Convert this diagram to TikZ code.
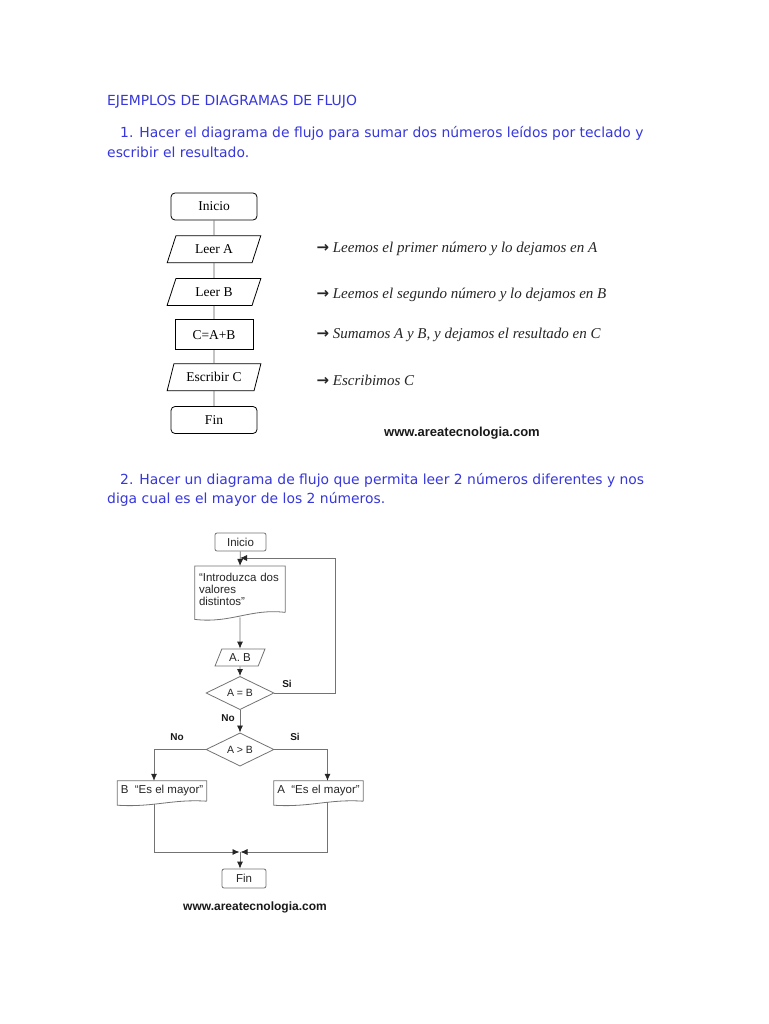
\documentclass[tikz,border=0pt]{standalone}
\usepackage{fontspec}
\setmainfont{Liberation Serif}
\newfontfamily\verd{DejaVu Sans}
\newfontfamily\arial{Liberation Sans}
\usepackage{tikz}
\usetikzlibrary{arrows,arrows.meta}
\usetikzlibrary{shapes.geometric}
\usetikzlibrary{calc}
\definecolor{textblue}{RGB}{55,55,220}
\definecolor{linegray}{RGB}{115,115,115}
\tikzset{term1/.style={rectangle, rounded corners=4pt, draw=black, thick, minimum width=86pt, minimum height=27pt, font=\fontsize{13.5}{15}\selectfont},
	io1/.style={trapezium, trapezium left angle=72, trapezium right angle=108, trapezium stretches=true, draw=black, thick, minimum width=94pt, minimum height=27pt, font=\fontsize{13.5}{15}\selectfont},
	proc1/.style={rectangle, draw=black, thick, minimum width=78pt, minimum height=30pt, font=\fontsize{13.5}{15}\selectfont},
	note/.style={anchor=west, font=\itshape\fontsize{15}{17}\selectfont, text=black!85},
	blue/.style={anchor=base west, inner sep=0pt, text=textblue, font=\verd\fontsize{13.9}{16}\selectfont},
	url/.style={font=\arial\bfseries\fontsize{13}{15}\selectfont, text=black!90},
	term2/.style={rectangle, rounded corners=2pt, draw=linegray, thick, font=\arial\fontsize{11.5}{13}\selectfont, text=black!85},
	io2/.style={trapezium, trapezium left angle=70, trapezium right angle=110, trapezium stretches=true, draw=linegray, thick, minimum width=50pt, minimum height=17pt, font=\arial\fontsize{11.5}{13}\selectfont, text=black!85},
	dec2/.style={diamond, draw=linegray, thick, minimum width=68pt, minimum height=24pt, inner sep=0pt, font=\arial\fontsize{10.5}{12}\selectfont, text=black!85},
	doc2/.style={rectangle, font=\arial\fontsize{11.5}{12}\selectfont, text=black!85},
	line2/.style={draw=linegray, thick},
	flow/.style={line2, -{Latex[length=7pt,width=6pt,color=black!85]}},
	lbl/.style={font=\arial\bfseries\fontsize{10}{12}\selectfont, text=black!90}
}
% outline of a document box: name, drop of the wave at the left
\newcommand{\docshape}[2]{%
	\draw[line2] (#1.south east) -- (#1.north east) -- (#1.north west) -- ([yshift=-#2pt]#1.south west)
	.. controls ($(#1.south west)!0.4!(#1.south east)+(0,-1.6*#2)$) and ($(#1.south west)!0.62!(#1.south east)+(0,0.6*#2)$) .. (#1.south east);}

\begin{document}
\begin{tikzpicture}[x=1pt,y=1pt,level distance=42.7pt,
			edge from parent/.style={draw, black!65, thick}]
	\useasboundingbox[fill=white] (0,0) rectangle (768,-1024);

	% texts
	\node[blue] (titulo) at (107,-106) {EJEMPLOS DE DIAGRAMAS DE FLUJO};
	\node[blue] (uno) at (120,-138) {1. Hacer el diagrama de flujo para sumar dos números leídos por teclado y};
	\node[blue] (unob) at (107,-158) {escribir el resultado.};
	\node[blue] (dos) at (120,-484) {2. Hacer un diagrama de flujo que permita leer 2 números diferentes y nos};
	\node[blue] (dosb) at (107,-503) {diga cual es el mayor de los 2 números.};

	% first diagram
	\node[term1] (inicio) at (214,-206.5) {Inicio}
	child {node[io1] (leera) {Leer A}
		child {node[io1] (leerb) {Leer B}
			child {node[proc1] (suma) {C=A+B}
				child {node[io1] (escribir) {Escribir C}
					child {node[term1] (fin) {Fin}}}}}};

	\node[note] (nota1) at (313,-249) {{\verd\bfseries →}\ Leemos el primer número y lo dejamos en A};
	\node[note] (nota2) at (313,-295) {{\verd\bfseries →}\ Leemos el segundo número y lo dejamos en B};
	\node[note] (nota3) at (313,-335) {{\verd\bfseries →}\ Sumamos A y B, y dejamos el resultado\ en C};
	\node[note] (nota4) at (313,-380) {{\verd\bfseries →}\ Escribimos C};
	\node[url] (web1) at (462,-433) {www.areatecnologia.com};

	% second diagram
	\node[term2, minimum width=51pt, minimum height=18pt] (inicio2) at (240.5,-542) {Inicio};
	\node[doc2, minimum width=90pt, minimum height=46pt, text width=82pt, inner sep=4pt, align=left, anchor=north] (intro) at (240,-566) {“Introduzca dos\\valores\\distintos”};
	\docshape{intro}{7}
	\node[io2] (ab) at (240,-657.5) {A. B};
	\node[dec2] (eq) at (240,-693) {A = B};
	\node[dec2] (gt) at (240,-749.5) {A > B};
	\node[doc2, minimum width=88pt, minimum height=20pt] (bmay) at (162,-791) {B~~“Es el mayor”};
	\docshape{bmay}{4}
	\node[doc2, minimum width=87pt, minimum height=20pt] (amay) at (318.5,-791) {A~~“Es el mayor”};
	\docshape{amay}{4}
	\node[term2, minimum width=44pt, minimum height=19pt] (fin2) at (244,-878.5) {Fin};
	\node[url, font=\arial\bfseries\fontsize{12}{14}\selectfont] (web2) at (255,-907) {www.areatecnologia.com};

	\coordinate (entrada) at (240,-558);
	\coordinate (vuelta) at (335,-558);
	\coordinate (union) at (240,-852);

	\draw[flow] (inicio2) -- (intro.north);
	\draw[flow] (vuelta) -- (entrada);
	\draw[line2] (eq.east) -| (vuelta);
	\draw[flow] ([yshift=-5pt]intro.south) -- (ab);
	\draw[flow] (ab) -- (eq);
	\draw[flow] (eq) -- (gt);
	\draw[flow] (gt.west) -| ([xshift=-8pt]bmay.north);
	\draw[flow] (gt.east) -| ([xshift=9pt]amay.north);
	\draw[flow] ([xshift=-8pt,yshift=-3pt]bmay.south) |- ([xshift=-0.5pt]union);
	\draw[flow] ([xshift=9pt,yshift=-1pt]amay.south) |- ([xshift=0.5pt]union);
	\draw[flow] (union) -- (union |- fin2.north);

	\node[lbl] (si1) at (287,-684) {Si};
	\node[lbl] (no1) at (228,-718) {No};
	\node[lbl] (no2) at (177,-737) {No};
	\node[lbl] (si2) at (295,-737) {Si};
\end{tikzpicture}
\end{document}
